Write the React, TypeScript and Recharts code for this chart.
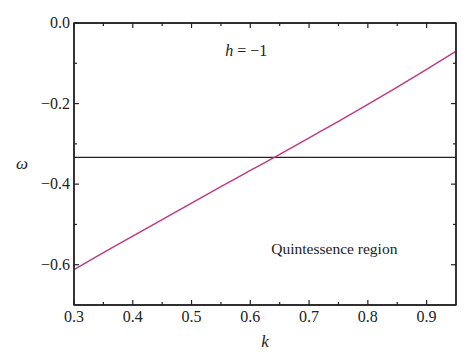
import { LineChart, Line, XAxis, YAxis, ReferenceDot, ReferenceLine, ReferenceArea } from 'recharts';

// equation of state w(k) for h = -1
const kValues = [0.3, 0.35, 0.4, 0.45, 0.5, 0.55, 0.6, 0.65, 0.7, 0.75, 0.8, 0.85, 0.9, 0.95];
const wValues = [-0.612, -0.570, -0.529, -0.488, -0.447, -0.406, -0.366, -0.326, -0.285, -0.244, -0.202, -0.159, -0.115, -0.070];

const xTicks = [0.3, 0.35, 0.4, 0.45, 0.5, 0.55, 0.6, 0.65, 0.7, 0.75, 0.8, 0.85, 0.9];
const xLabeled = [0.3, 0.4, 0.5, 0.6, 0.7, 0.8, 0.9];
const yTicks = [-0.6, -0.5, -0.4, -0.3, -0.2, -0.1, 0];
const yLabeled = [-0.6, -0.4, -0.2, 0];

const xDomain = [0.3, 0.95];
const yDomain = [-0.7, 0];

// w = -1/3 boundary
const phantomDivide = -1 / 3;

// "top" is the upper frame edge, drawn as a flat series
const data = kValues.map((k, i) => ({ k, w: wValues[i], top: yDomain[1] }));

const FONT = 'Liberation Serif, DejaVu Serif, serif';
const AXIS = '#222';
const MAJOR = 5;
const MINOR = 3;

const isLabeled = (list: number[], v: number) => list.some(t => Math.abs(t - v) < 1e-6);
const fmt = (v: number) => (Math.abs(v) < 1e-9 ? '0.0' : (v < 0 ? '\u2212' : '') + Math.abs(v).toFixed(1));

const txt = { fontFamily: FONT, fill: '#222' };

const BottomTick = (props: any) => {
  const { x, y, payload } = props;
  const major = isLabeled(xLabeled, payload.value);
  return (
    <g>
      <line x1={x} y1={y} x2={x} y2={y - (major ? MAJOR : MINOR)} stroke={AXIS} strokeWidth={1.2} />
      {major && (
        <text x={x} y={y + 17} textAnchor="middle" style={{ ...txt, fontSize: 16 }}>
          {payload.value.toFixed(1)}
        </text>
      )}
    </g>
  );
};

const LeftTick = (props: any) => {
  const { x, y, payload } = props;
  const major = isLabeled(yLabeled, payload.value);
  return (
    <g>
      <line x1={x} y1={y} x2={x + (major ? MAJOR : MINOR)} y2={y} stroke={AXIS} strokeWidth={1.2} />
      {major && (
        <text x={x - 4} y={y + 5} textAnchor="end" style={{ ...txt, fontSize: 16 }}>
          {fmt(payload.value)}
        </text>
      )}
    </g>
  );
};

// ticks hanging from the top edge, one per data row that is a tick value
const TopEdgeTick = (p: any) => {
  const { cx, cy, payload, index } = p;
  if (!isLabeled(xTicks, payload.k)) return <g key={`te${index}`} />;
  const len = isLabeled(xLabeled, payload.k) ? MAJOR : MINOR;
  return <line key={`te${index}`} x1={cx} y1={cy} x2={cx} y2={cy + len} stroke={AXIS} strokeWidth={1.2} />;
};

// right edge and its ticks, placed with the y scale recovered from the curve's own points
const RightEdge = (p: any) => {
  const { cx, index, points } = p;
  if (!points || index !== points.length - 1) return <g key={`re${index}`} />;
  const a = points[0];
  const b = points[points.length - 1];
  const slope = (b.y - a.y) / (b.value - a.value);
  const py = (w: number) => a.y + (w - a.value) * slope;
  return (
    <g key={`re${index}`}>
      <line x1={cx} y1={py(yDomain[1])} x2={cx} y2={py(yDomain[0])} stroke={AXIS} strokeWidth={1.4} />
      {yTicks.map(t => (
        <line key={t} x1={cx} y1={py(t)} x2={cx - (isLabeled(yLabeled, t) ? MAJOR : MINOR)} y2={py(t)} stroke={AXIS} strokeWidth={1.2} />
      ))}
    </g>
  );
};

export default function App() {
  return (
    <div style={{ position: 'absolute', left: 0, top: 0, width: 474, height: 363, background: '#fff' }}>
      <LineChart width={474} height={363} data={data} margin={{ top: 23, right: 18, bottom: 0, left: 0 }}>
        <XAxis
          dataKey="k"
          type="number"
          domain={xDomain}
          ticks={xTicks}
          interval={0}
          tickSize={0}
          tickMargin={0}
          tickLine={false}
          tick={BottomTick}
          height={58}
          axisLine={{ stroke: AXIS, strokeWidth: 1.4 }}
          label={{
            content: ({ viewBox }: any) => (
              <text x={viewBox.x + viewBox.width / 2} y={viewBox.y + 42} textAnchor="middle" style={{ ...txt, fontSize: 17, fontStyle: 'italic' }}>
                k
              </text>
            ),
          }}
        />
        <YAxis
          type="number"
          domain={yDomain}
          ticks={yTicks}
          interval={0}
          tickSize={0}
          tickMargin={0}
          tickLine={false}
          tick={LeftTick}
          width={74}
          axisLine={{ stroke: AXIS, strokeWidth: 1.4 }}
          label={{
            content: ({ viewBox }: any) => (
              <text x={22} y={viewBox.y + viewBox.height / 2 + 5} textAnchor="middle" style={{ ...txt, fontSize: 17, fontStyle: 'italic' }}>
                ω
              </text>
            ),
          }}
        />
        <ReferenceArea x1={xDomain[0]} x2={xDomain[1]} y1={yDomain[0]} y2={yDomain[1]} fill="none" fillOpacity={0} stroke={AXIS} strokeWidth={1.4} ifOverflow="visible" />
        <ReferenceLine y={phantomDivide} stroke="#222" strokeWidth={1.2} />
        <Line
          dataKey="top"
          type="linear"
          stroke={AXIS}
          strokeWidth={1.4}
          dot={TopEdgeTick}
          activeDot={false}
          legendType="none"
          isAnimationActive={false}
        />
        <Line
          dataKey="w"
          type="monotone"
          stroke="#c2387c"
          strokeWidth={1.4}
          dot={RightEdge}
          activeDot={false}
          isAnimationActive={false}
        />
        <ReferenceDot
          x={0.593}
          y={-0.07}
          r={0}
          fill="none"
          stroke="none"
          label={{
            content: ({ viewBox }: any) => (
              <text x={viewBox.x} y={viewBox.y + 5} textAnchor="middle" style={{ ...txt, fontSize: 16 }}>
                <tspan style={{ fontStyle: 'italic' }}>h</tspan> = {'\u2212'}1
              </text>
            ),
          }}
        />
        <ReferenceDot
          x={0.743}
          y={-0.561}
          r={0}
          fill="none"
          stroke="none"
          label={{
            content: ({ viewBox }: any) => (
              <text x={viewBox.x} y={viewBox.y + 5} textAnchor="middle" style={{ ...txt, fontSize: 15.5 }}>
                Quintessence region
              </text>
            ),
          }}
        />
      </LineChart>
    </div>
  );
}
